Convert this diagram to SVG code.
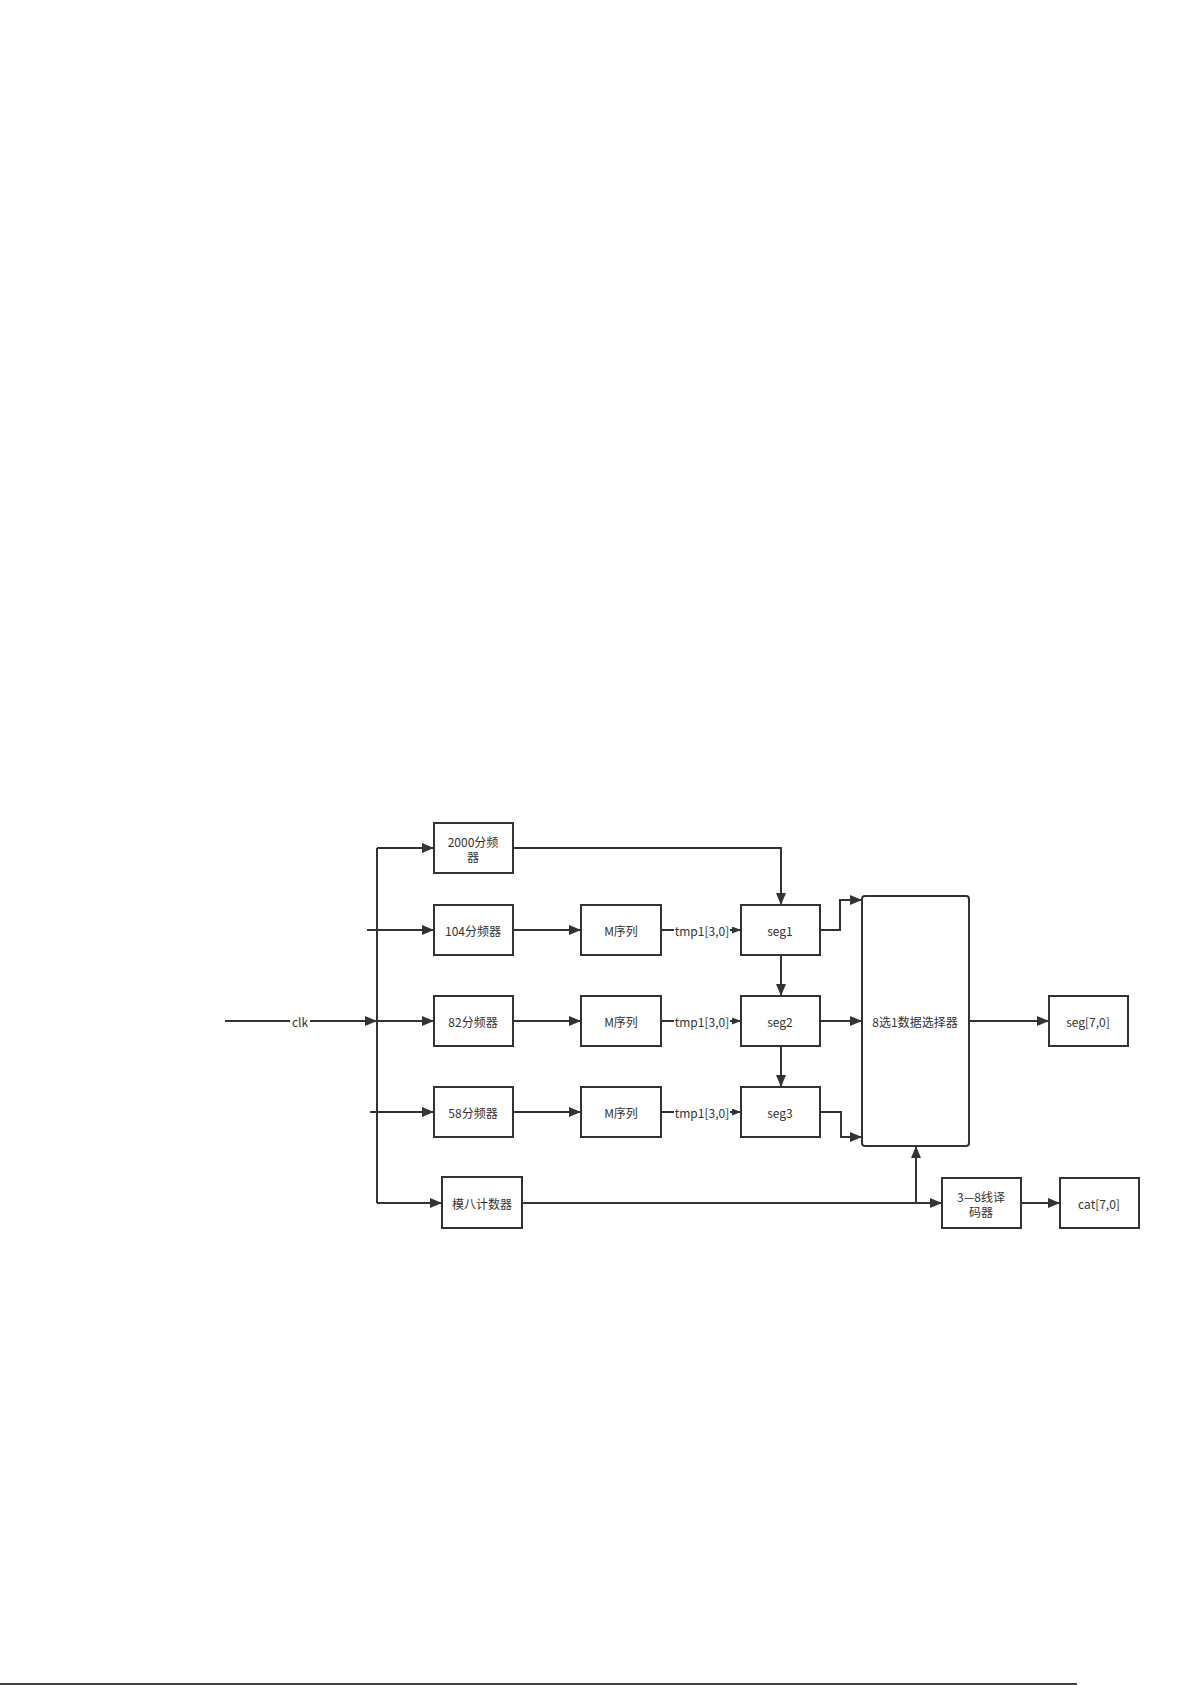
<svg xmlns="http://www.w3.org/2000/svg" width="1192" height="1685" viewBox="0 0 1192 1685">
<defs>
<marker id="arr" markerUnits="userSpaceOnUse" markerWidth="12" markerHeight="10" viewBox="0 0 12 10" refX="12" refY="5" orient="auto">
<path d="M0,0 L12,5 L0,10 Z" fill="#333"/>
</marker>
<marker id="arrs" markerUnits="userSpaceOnUse" markerWidth="9" markerHeight="7" viewBox="0 0 9 7" refX="9" refY="3.5" orient="auto">
<path d="M0,0 L9,3.5 L0,7 Z" fill="#333"/>
</marker>
</defs>
<style>
.box{fill:#fff;stroke:#333;stroke-width:2}
.ln{fill:none;stroke:#333;stroke-width:2}
.a{marker-end:url(#arr)}
.as{marker-end:url(#arrs)}
text{font-family:"Noto Sans CJK SC","Liberation Sans",sans-serif;font-size:12px;fill:#333;text-anchor:middle;dominant-baseline:central}
.lbl{fill:#fff;stroke:none}
</style>
<rect width="1192" height="1685" fill="#fff"/>
<g id="connectors">
<path class="ln a" d="M225 1021 H377"/>
<path class="ln" d="M377 848 V1203"/>
<path class="ln a" d="M377 848 H434"/>
<path class="ln a" d="M377 1021 H434"/>
<path class="ln a" d="M377 1203 H442"/>
<path class="ln a" d="M367 930 H434"/>
<path class="ln a" d="M370 1112 H434"/>
<path class="ln a" d="M513 930 H581"/>
<path class="ln a" d="M513 1021 H581"/>
<path class="ln a" d="M513 1112 H581"/>
<path class="ln as" d="M661 930 H741"/>
<path class="ln as" d="M661 1021 H741"/>
<path class="ln as" d="M661 1112 H741"/>
<path class="ln a" d="M513 848 H781 V905"/>
<path class="ln a" d="M781 955 V996"/>
<path class="ln a" d="M781 1046 V1087"/>
<path class="ln a" d="M820 930 H840 V900 H862"/>
<path class="ln a" d="M820 1021 H862"/>
<path class="ln a" d="M820 1112 H841 V1137 H862"/>
<path class="ln a" d="M969 1021 H1049"/>
<path class="ln a" d="M522 1203 H942"/>
<path class="ln a" d="M916 1203 V1146"/>
<path class="ln a" d="M1021 1203 H1060"/>
<rect class="lbl" x="290" y="1013" width="20" height="16"/>
<text x="300" y="1021">clk</text>
<rect class="lbl" x="674" y="922" width="56" height="16"/>
<text x="702" y="930">tmp1[3,0]</text>
<rect class="lbl" x="674" y="1013" width="56" height="16"/>
<text x="702" y="1021">tmp1[3,0]</text>
<rect class="lbl" x="674" y="1104" width="56" height="16"/>
<text x="702" y="1112">tmp1[3,0]</text>
</g>
<g id="div2000"><rect class="box" x="434" y="823" width="79" height="50"/><text x="473" y="841">2000分频</text><text x="473" y="856">器</text></g>
<g id="div104"><rect class="box" x="434" y="905" width="79" height="50"/><text x="473" y="930">104分频器</text></g>
<g id="div82"><rect class="box" x="434" y="996" width="79" height="50"/><text x="473" y="1021">82分频器</text></g>
<g id="div58"><rect class="box" x="434" y="1087" width="79" height="50"/><text x="473" y="1112">58分频器</text></g>
<g id="counter8"><rect class="box" x="442" y="1177" width="80" height="51"/><text x="482" y="1203">模八计数器</text></g>
<g id="mseq1"><rect class="box" x="581" y="905" width="80" height="50"/><text x="621" y="930">M序列</text></g>
<g id="mseq2"><rect class="box" x="581" y="996" width="80" height="50"/><text x="621" y="1021">M序列</text></g>
<g id="mseq3"><rect class="box" x="581" y="1087" width="80" height="50"/><text x="621" y="1112">M序列</text></g>
<g id="seg1"><rect class="box" x="741" y="905" width="79" height="50"/><text x="780" y="930">seg1</text></g>
<g id="seg2"><rect class="box" x="741" y="996" width="79" height="50"/><text x="780" y="1021">seg2</text></g>
<g id="seg3"><rect class="box" x="741" y="1087" width="79" height="50"/><text x="780" y="1112">seg3</text></g>
<g id="mux"><rect class="box" x="862" y="896" width="107" height="250" rx="3"/><text x="915" y="1021">8选1数据选择器</text></g>
<g id="segout"><rect class="box" x="1049" y="996" width="79" height="50"/><text x="1088" y="1021">seg[7,0]</text></g>
<g id="decoder"><rect class="box" x="942" y="1178" width="79" height="50"/><text x="981" y="1196">3—8线译</text><text x="981" y="1211">码器</text></g>
<g id="catout"><rect class="box" x="1060" y="1178" width="79" height="50"/><text x="1099" y="1203">cat[7,0]</text></g>
<line x1="0" y1="1684" x2="1077" y2="1684" stroke="#000" stroke-width="1.5"/>
</svg>
